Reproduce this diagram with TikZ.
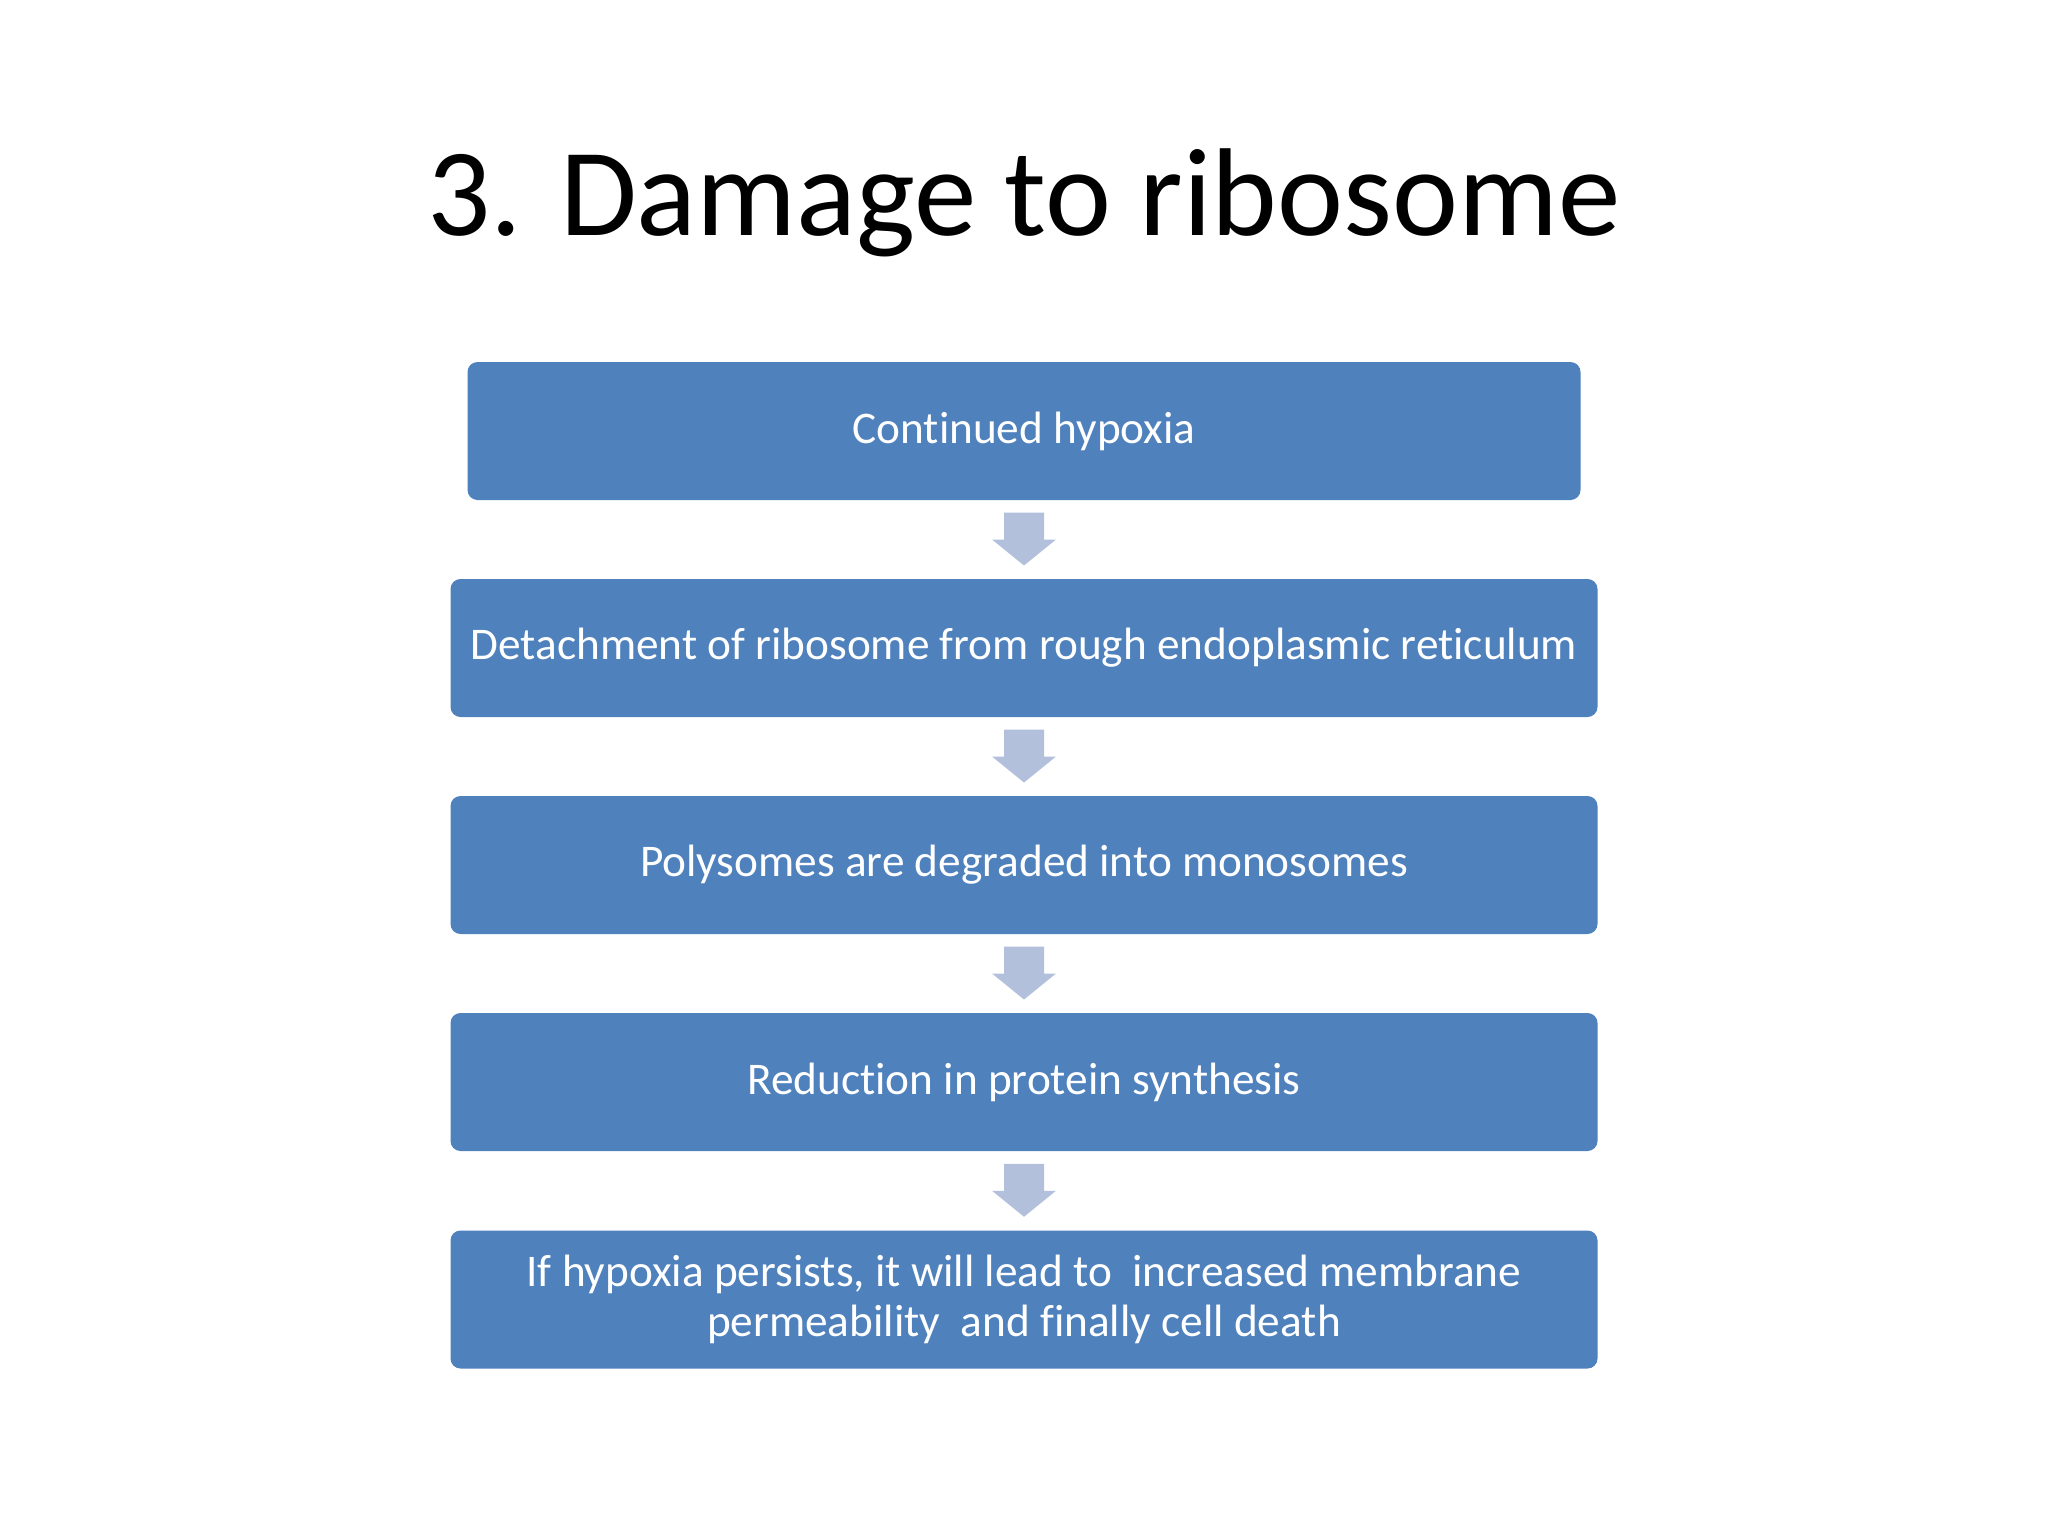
\documentclass[tikz,border=0pt]{standalone}
\usepackage{fontspec}
\setmainfont{Carlito}[Ligatures=NoCommon]
\usetikzlibrary{calc}
\definecolor{boxblue}{HTML}{4F81BD}
\definecolor{arrowblue}{HTML}{B3C0DC}
\begin{document}
\begin{tikzpicture}[x=1pt,y=-1pt,
  stepbox/.style={fill=boxblue, draw=none, rounded corners=10pt, text=white,
    minimum height=138pt, align=center, inner sep=0pt,
    font=\fontsize{45.3}{50}\selectfont},
  downarrow/.style={fill=arrowblue, draw=none}]
\useasboundingbox[fill=white] (0,0) rectangle (2048,1536);
\node[anchor=base, font=\fontsize{125}{130}\selectfont] (title) at (1024,235) {3. Damage to ribosome};
\node[stepbox, minimum width=1113pt] (b1) at (1024,431) {Continued hypoxia};
\node[stepbox, minimum width=1147pt] (b2) at (1024,648) {Detachment of ribosome from rough endoplasmic reticulum};
\node[stepbox, minimum width=1147pt] (b3) at (1024,865) {Polysomes are degraded into monosomes};
\node[stepbox, minimum width=1147pt] (b4) at (1024,1082) {Reduction in protein synthesis};
\node[stepbox, minimum width=1147pt] (b5) at (1024,1299.5) {If hypoxia persists, it will lead to \ increased membrane\\permeability \ and finally cell death};
\foreach \a/\b in {b1/b2,b2/b3,b3/b4,b4/b5}{
  \coordinate (m) at ($(\a.south)!0.5!(\b.north)$);
  \fill[downarrow] ([xshift=-20pt,yshift=27pt]m) -- ([xshift=20pt,yshift=27pt]m)
    -- ([xshift=20pt,yshift=0pt]m) -- ([xshift=32pt,yshift=0pt]m)
    -- ([yshift=-26pt]m) -- ([xshift=-32pt,yshift=0pt]m) -- ([xshift=-20pt,yshift=0pt]m) -- cycle;
}
\end{tikzpicture}
\end{document}
